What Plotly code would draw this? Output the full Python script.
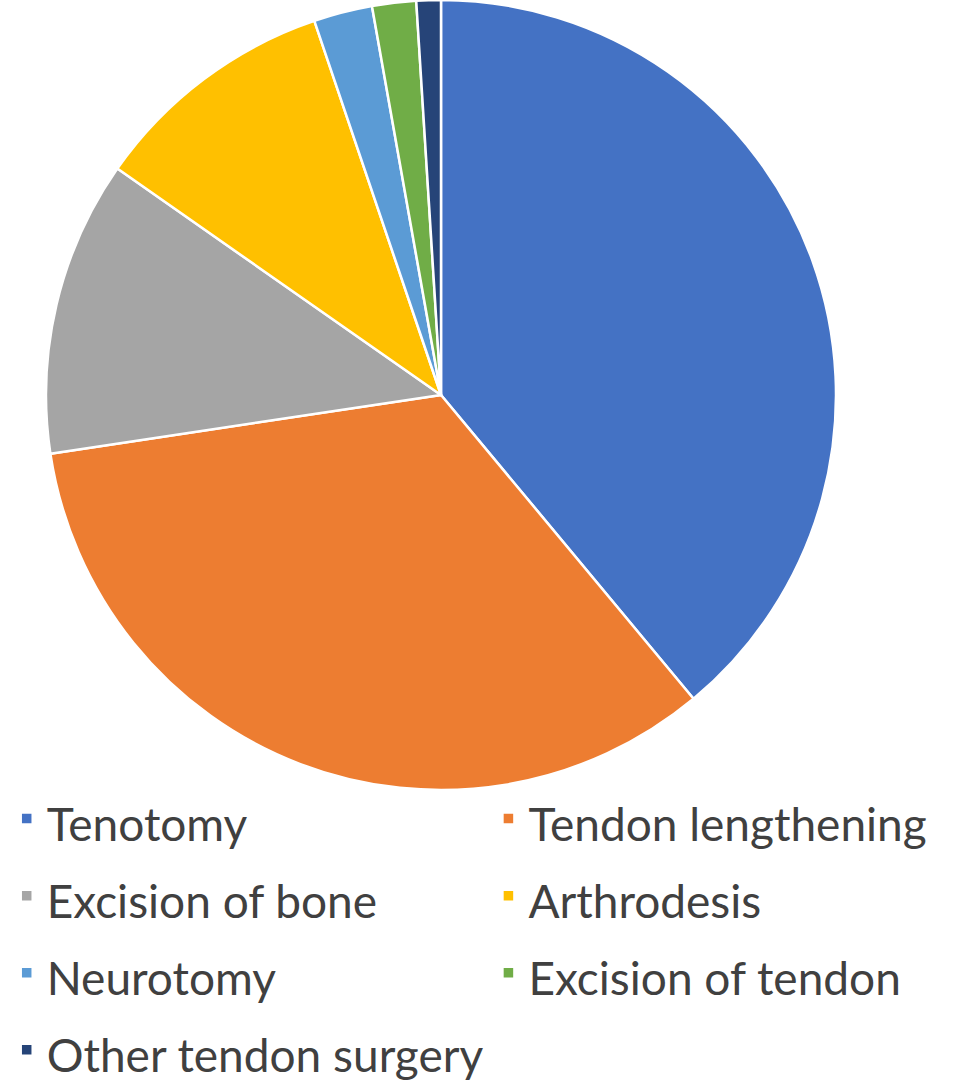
import plotly.graph_objects as go

labels = ["Tenotomy", "Tendon lengthening", "Excision of bone", "Arthrodesis",
          "Neurotomy", "Excision of tendon", "Other tendon surgery"]
values = [39.0, 33.7, 12.1, 10.1, 2.4, 1.8, 1.0]
colors = ["#4472C4", "#ED7D31", "#A5A5A5", "#FFC000", "#5B9BD5", "#70AD47", "#264478"]

W, H = 959, 1088
R = 395
cx, cy = 441, 395  # pixel center (from top)

# legend text is drawn a little smaller than the legend's row font so rows get Excel-like spacing
legend_labels = [f"<span style='font-size:46px'>{name}</span>" for name in labels]

fig = go.Figure(go.Pie(
    labels=legend_labels,
    values=values,
    sort=False,
    direction="clockwise",
    rotation=0,
    textinfo="none",
    hovertemplate="%{customdata}: %{percent}<extra></extra>",
    customdata=labels,
    marker=dict(colors=colors, line=dict(color="white", width=2.5)),
    domain=dict(x=[(cx - R) / W, (cx + R) / W], y=[(H - cy - R) / H, 1.0]),
))

fig.update_layout(
    width=W, height=H,
    margin=dict(l=0, r=0, t=0, b=0, autoexpand=False),
    paper_bgcolor="white",
    plot_bgcolor="white",
    showlegend=True,
    legend=dict(
        orientation="h",
        x=0.007, xanchor="left",
        y=(H - 775) / H, yanchor="top",
        bgcolor="rgba(0,0,0,0)",
        font=dict(family="Lato", size=57, color="#404040"),
        itemwidth=30,
        traceorder="normal",
    ),
)

fig.write_html("out.html", config={"displayModeBar": False},
               post_script="document.body.style.margin='0';")
